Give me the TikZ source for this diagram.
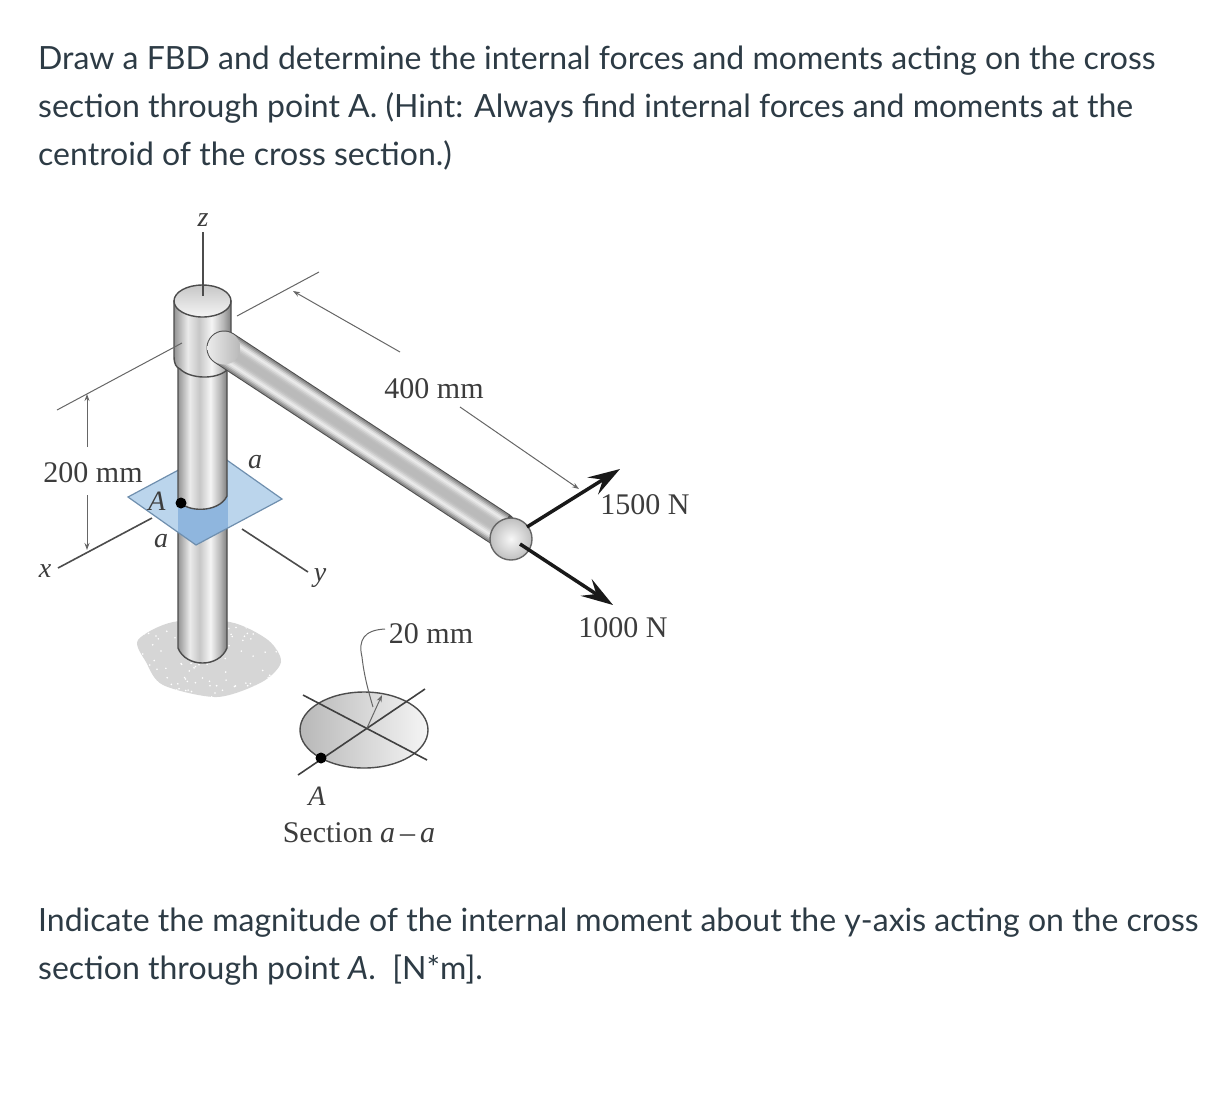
\documentclass[tikz,border=0pt]{standalone}
\usepackage{fontspec}
\setmainfont{Lato}
\newfontfamily\labelfont{Liberation Serif}
\usetikzlibrary{arrows.meta, positioning}
\definecolor{bodyink}{HTML}{2D3B45}
\definecolor{labelink}{HTML}{3C3C3C}
\definecolor{planeblue}{HTML}{BBD5EC}
\definecolor{planedark}{HTML}{8FB6DE}
\definecolor{planeedge}{HTML}{6F8FAE}
\definecolor{groundgray}{HTML}{D6D6D6}
\pgfdeclarehorizontalshading{metal}{100bp}{color(0bp)=(black!42); color(25bp)=(black!42); color(37bp)=(black!8); color(47bp)=(black!22); color(58bp)=(black!4); color(68bp)=(black!28); color(75bp)=(black!50); color(100bp)=(black!50)}
\tikzset{
  bodytext/.style={anchor=base west,inner sep=0pt,text=bodyink,font=\fontsize{32}{32}\selectfont},
  dimlabel/.style={inner sep=0pt,text=labelink,font=\labelfont\fontsize{30}{30}\selectfont},
  axislabel/.style={inner sep=0pt,text=labelink,font=\labelfont\itshape\fontsize{28}{28}\selectfont},
  dimline/.style={color=black!60,line width=1pt},
  axisline/.style={color=black!70,line width=1.6pt},
  force/.style={color=black!90,line width=3.5pt,-{Stealth[length=32pt,width=20pt,inset=12pt]}},
  metalbody/.style={shading=metal,draw=black!70,line width=1.4pt}
}
\begin{document}
\begin{tikzpicture}[x=1pt,y=-1pt]
\useasboundingbox (0,0) rectangle (1230,1104);
\node[bodytext] (line1) at (38,69) {Draw a FBD and determine the internal forces and moments acting on the cross};
\node[bodytext] (line2) at (38,117) {section through point A. (Hint: Always find internal forces and moments at the};
\node[bodytext] (line3) at (38,165) {centroid of the cross section.)};
\node[bodytext] (line4) at (38,931) {Indicate the magnitude of the internal moment about the y-axis acting on the cross};
\node[bodytext] (line5) at (38,979) {section through point \textit{A}.\ \ [N*m].};

\fill[groundgray] plot[smooth cycle] coordinates {(138,640) (173,622) (230,622) (268,640) (281,662) (262,682) (217,697) (163,685) (146,662)};
\begin{scope}
\clip plot[smooth cycle] coordinates {(138,640) (173,622) (230,622) (268,640) (281,662) (262,682) (217,697) (163,685) (146,662)};
\pgfmathsetseed{12}
\foreach \i in {1,...,110} {
  \pgfmathsetmacro{\px}{138+143*rnd}
  \pgfmathsetmacro{\py}{620+78*rnd}
  \fill[white] (\px,\py) circle (0.9pt);
}
\end{scope}

\shade[metalbody] (178,520) -- (178,648) .. controls (186,668) and (219,668) .. (227,648) -- (227,520) -- cycle;

\coordinate (planeL) at (128,497);
\coordinate (planeT) at (214,451);
\coordinate (planeR) at (282,499);
\coordinate (planeB) at (196,545);
\fill[planeblue] (planeL) -- (planeT) -- (planeR) -- (planeB) -- cycle;
\begin{scope}
\clip (planeL) -- (planeT) -- (planeR) -- (planeB) -- cycle;
\fill[planedark] (178,480) rectangle (228,550);
\end{scope}
\draw[planeedge,line width=1.2pt] (planeL) -- (planeT) -- (planeR) -- (planeB) -- cycle;

\draw[axisline] (152,518) -- (58,568);
\draw[axisline] (242,529) -- (308,572);

\shade[metalbody] (178,360) -- (178,500) .. controls (186,513) and (219,513) .. (227,496) -- (227,360) -- cycle;

\shade[metalbody] (174,301) -- (174,356) .. controls (174,364) and (176,367) .. (180,369) .. controls (190,379) and (216,380) .. (227,370) -- (231,360) -- (231,301) -- cycle;
\shade[top color=black!22,bottom color=black!4,draw=black!70,line width=1.4pt] (202.5,301) ellipse (28.5pt and 16pt);

\coordinate (armS) at (224,348);
\coordinate (armE) at (500,529);
\draw[color=black!70,line width=35pt,line cap=round] (armS) -- (armE);
\foreach \w/\c in {33/46,30/34,27/22,24/12,21/8,18/12,15/18,12/23,9/26,6/27,3/27} {
  \draw[color=black!\c,line width=\w pt] (armS) -- (armE);
}
\shade[left color=black!8,right color=black!28] (armS) circle (16.5pt);

\shade[inner color=black!3,outer color=black!25,draw=black!60,line width=1.4pt] (511,539) circle (21pt);

\draw[axisline] (203,232) -- (203,296);
\draw[dimline] (57,410) -- (182,343);
\draw[dimline] (237,316) -- (319,272);
\draw[dimline,-{Stealth[length=7pt,width=5pt]}] (87,447) -- (87,394);
\draw[dimline,-{Stealth[length=7pt,width=5pt]}] (87,495) -- (87,550);
\draw[dimline,-{Stealth[length=7pt,width=5pt]}] (400,352) -- (293,291);
\draw[dimline,-{Stealth[length=7pt,width=5pt]}] (460,407) -- (579,489);

\draw[force] (527,527) -- (620,469);
\draw[force] (520,544) -- (613,605);
\fill[black] (181,503) circle (5.5pt);

\shade[left color=black!28,right color=black!4,draw=black!70,line width=1.4pt] (364,730) ellipse (64pt and 38pt);
\draw[axisline,color=black!75] (303,695) -- (427,760);
\draw[axisline,color=black!75] (298,775) -- (425,689);
\fill[black] (321,758) circle (5.5pt);
\draw[dimline,-{Stealth[length=7pt,width=5pt]}] (367,728) -- (382,695);
\draw[dimline] (385,629) .. controls (364,630) and (358,640) .. (362,657) .. controls (364,675) and (368,690) .. (373,707);

\node[axislabel] (zlabel) at (203,220) {z};
\node[axislabel] (xlabel) at (45,571) {x};
\node[axislabel] (ylabel) at (320,578) {y};
\node[axislabel] (atop) at (255,462) {a};
\node[axislabel] (abottom) at (161,541) {a};
\node[axislabel] (Aplane) at (157,501) {A};
\node[axislabel] (Asection) at (317,796) {A};
\node[dimlabel] (dim200) at (93,473) {200 mm};
\node[dimlabel] (dim400) at (434,389) {400 mm};
\node[dimlabel] (dim20) at (431,634) {20 mm};
\node[dimlabel] (f1500) at (645,505) {1500 N};
\node[dimlabel] (f1000) at (623,628) {1000 N};
\node[dimlabel] (sectionlabel) at (359,833) {Section \textit{a}\,\textendash\,\textit{a}};
\end{tikzpicture}
\end{document}
